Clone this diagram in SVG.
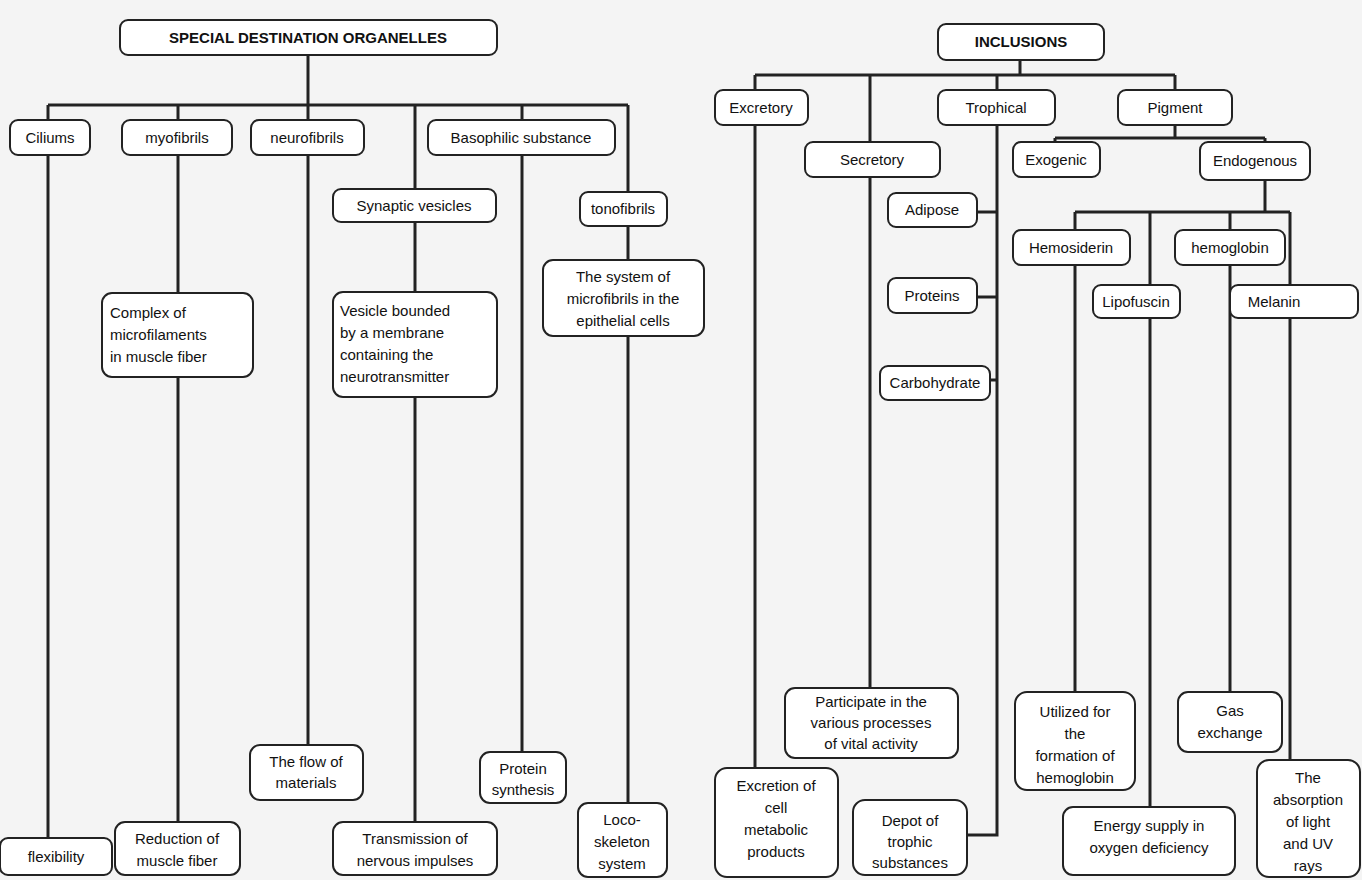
<svg xmlns="http://www.w3.org/2000/svg" width="1362" height="880" viewBox="0 0 1362 880">
<style>
.b{fill:#fff;stroke:#222;stroke-width:2}
text{font-family:"Liberation Sans",Arial,sans-serif;font-size:15px;fill:#111;text-anchor:middle}
.h{font-weight:bold}
.c{fill:none;stroke:#222;stroke-width:3}
</style>
<rect width="1362" height="880" fill="#f4f4f4"/>
<g id="connectors">
<path class="c" d="M308 55V105M48 105H628M48 105V838M178 105V822M308 105V745M415 105V189M522 105V752M628 105V803M415 222V822M178 377V822M628 336V803"/>
<path class="c" d="M1020 60V75M755 75H1175M755 75V768M870 75V688M997 75V835H967M977 212H997M977 297H997M990 380H997M1175 75V138M1055 138H1265M1055 138V142M1265 138V212M1075 212H1290M1075 212V692M1150 212V807M1230 212V692M1290 212V760"/>
</g>
<g id="n1"><rect class="b" x="120" y="20" width="377" height="35" rx="8"/><text class="h" x="308" y="43">SPECIAL DESTINATION ORGANELLES</text></g>
<g id="n2"><rect class="b" x="10" y="120" width="80" height="35" rx="8"/><text x="50" y="143">Ciliums</text></g>
<g id="n3"><rect class="b" x="122" y="120" width="110" height="35" rx="8"/><text x="177" y="143">myofibrils</text></g>
<g id="n4"><rect class="b" x="251" y="120" width="113" height="35" rx="8"/><text x="307" y="143">neurofibrils</text></g>
<g id="n5"><rect class="b" x="428" y="120" width="187" height="35" rx="8"/><text x="521" y="143">Basophilic substance</text></g>
<g id="n6"><rect class="b" x="333" y="189" width="163" height="33" rx="8"/><text x="414" y="211">Synaptic vesicles</text></g>
<g id="n7"><rect class="b" x="580" y="192" width="87" height="34" rx="8"/><text x="623" y="214">tonofibrils</text></g>
<g id="n8"><rect class="b" x="543" y="260" width="161" height="76" rx="10"/><text x="623" y="282">The system of</text><text x="623" y="304">microfibrils in the</text><text x="623" y="326">epithelial cells</text></g>
<g id="n9"><rect class="b" x="102" y="293" width="151" height="84" rx="10"/><text x="110" y="318" style="text-anchor:start">Complex of</text><text x="110" y="340" style="text-anchor:start">microfilaments</text><text x="110" y="362" style="text-anchor:start">in muscle fiber</text></g>
<g id="n10"><rect class="b" x="333" y="292" width="164" height="105" rx="10"/><text x="340" y="316" style="text-anchor:start">Vesicle bounded</text><text x="340" y="338" style="text-anchor:start">by a membrane</text><text x="340" y="360" style="text-anchor:start">containing the</text><text x="340" y="382" style="text-anchor:start">neurotransmitter</text></g>
<g id="n11"><rect class="b" x="0" y="838" width="112" height="37" rx="8"/><text x="56" y="862">flexibility</text></g>
<g id="n12"><rect class="b" x="115" y="822" width="125" height="53" rx="10"/><text x="177" y="844">Reduction of</text><text x="177" y="866">muscle fiber</text></g>
<g id="n13"><rect class="b" x="250" y="745" width="113" height="55" rx="10"/><text x="306" y="767">The flow of</text><text x="306" y="788">materials</text></g>
<g id="n14"><rect class="b" x="333" y="822" width="164" height="53" rx="10"/><text x="415" y="844">Transmission of</text><text x="415" y="866">nervous impulses</text></g>
<g id="n15"><rect class="b" x="480" y="752" width="86" height="51" rx="10"/><text x="523" y="774">Protein</text><text x="523" y="795">synthesis</text></g>
<g id="n16"><rect class="b" x="578" y="803" width="89" height="74" rx="10"/><text x="622" y="825">Loco-</text><text x="622" y="847">skeleton</text><text x="622" y="869">system</text></g>
<g id="r1"><rect class="b" x="938" y="24" width="166" height="36" rx="8"/><text class="h" x="1021" y="47">INCLUSIONS</text></g>
<g id="r2"><rect class="b" x="715" y="90" width="93" height="35" rx="8"/><text x="761" y="113">Excretory</text></g>
<g id="r3"><rect class="b" x="938" y="90" width="117" height="35" rx="8"/><text x="996" y="113">Trophical</text></g>
<g id="r4"><rect class="b" x="1118" y="90" width="114" height="35" rx="8"/><text x="1175" y="113">Pigment</text></g>
<g id="r5"><rect class="b" x="805" y="142" width="135" height="35" rx="8"/><text x="872" y="165">Secretory</text></g>
<g id="r6"><rect class="b" x="888" y="193" width="89" height="34" rx="8"/><text x="932" y="215">Adipose</text></g>
<g id="r7"><rect class="b" x="888" y="278" width="89" height="35" rx="8"/><text x="932" y="301">Proteins</text></g>
<g id="r8"><rect class="b" x="880" y="366" width="110" height="34" rx="8"/><text x="935" y="388">Carbohydrate</text></g>
<g id="r9"><rect class="b" x="1013" y="142" width="87" height="35" rx="8"/><text x="1056" y="165">Exogenic</text></g>
<g id="r10"><rect class="b" x="1200" y="142" width="110" height="38" rx="8"/><text x="1255" y="166">Endogenous</text></g>
<g id="r11"><rect class="b" x="1013" y="230" width="117" height="35" rx="8"/><text x="1071" y="253">Hemosiderin</text></g>
<g id="r12"><rect class="b" x="1175" y="230" width="110" height="35" rx="8"/><text x="1230" y="253">hemoglobin</text></g>
<g id="r13"><rect class="b" x="1093" y="285" width="87" height="33" rx="8"/><text x="1136" y="307">Lipofuscin</text></g>
<g id="r14"><rect class="b" x="1230" y="285" width="128" height="33" rx="8"/><text x="1274" y="307">Melanin</text></g>
<g id="r15"><rect class="b" x="715" y="768" width="123" height="109" rx="12"/><text x="776" y="791">Excretion of</text><text x="776" y="813">cell</text><text x="776" y="835">metabolic</text><text x="776" y="857">products</text></g>
<g id="r16"><rect class="b" x="785" y="688" width="173" height="70" rx="10"/><text x="871" y="707">Participate in the</text><text x="871" y="728">various processes</text><text x="871" y="749">of vital activity</text></g>
<g id="r17"><rect class="b" x="853" y="800" width="114" height="75" rx="12"/><text x="910" y="826">Depot of</text><text x="910" y="847">trophic</text><text x="910" y="868">substances</text></g>
<g id="r18"><rect class="b" x="1015" y="692" width="120" height="98" rx="12"/><text x="1075" y="717">Utilized for</text><text x="1075" y="739">the</text><text x="1075" y="761">formation of</text><text x="1075" y="783">hemoglobin</text></g>
<g id="r19"><rect class="b" x="1063" y="807" width="172" height="68" rx="10"/><text x="1149" y="831">Energy supply in</text><text x="1149" y="853">oxygen deficiency</text></g>
<g id="r20"><rect class="b" x="1178" y="692" width="104" height="60" rx="10"/><text x="1230" y="716">Gas</text><text x="1230" y="738">exchange</text></g>
<g id="r21"><rect class="b" x="1257" y="760" width="103" height="117" rx="12"/><text x="1308" y="783">The</text><text x="1308" y="805">absorption</text><text x="1308" y="827">of light</text><text x="1308" y="849">and UV</text><text x="1308" y="871">rays</text></g>
</svg>
